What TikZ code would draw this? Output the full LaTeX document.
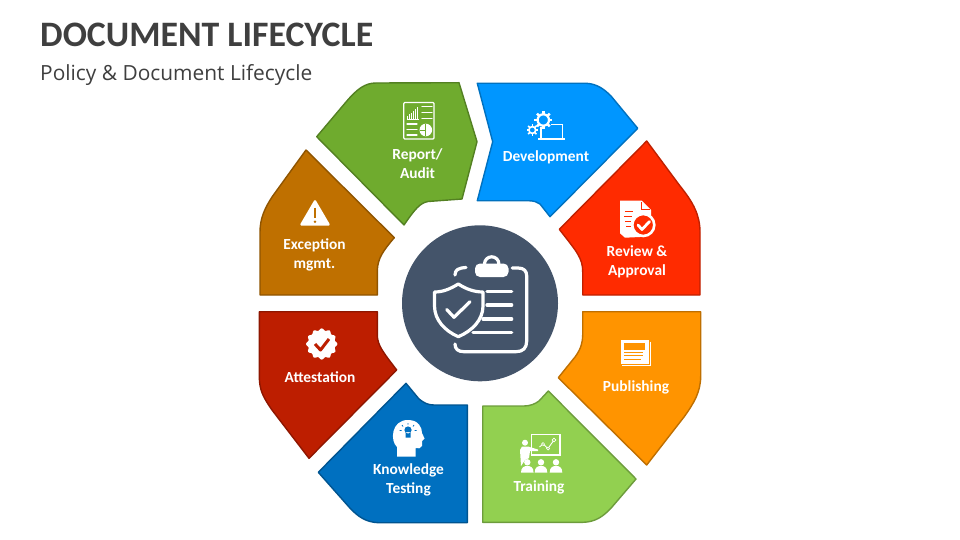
\documentclass[tikz,border=0pt]{standalone}
\usepackage{fontspec}
\setmainfont{Carlito}
\newfontfamily\subfont{Open Sans}
\usetikzlibrary{positioning}
\definecolor{reportc}{HTML}{6FAB2E}
\definecolor{excepc}{HTML}{BF7000}
\definecolor{devc}{HTML}{0096FF}
\definecolor{reviewc}{HTML}{FF2B00}
\definecolor{attestc}{HTML}{BD1E00}
\definecolor{knowc}{HTML}{0070C0}
\definecolor{trainc}{HTML}{92D050}
\definecolor{publishc}{HTML}{FF9400}
\definecolor{hubc}{HTML}{44546A}
\definecolor{titlec}{HTML}{3F3F3F}
\begin{document}
\begin{tikzpicture}[x=1pt,y=-1pt,
    petal/.style={line width=1.4pt,line join=round},
    lbl/.style={text=white,font=\fontsize{15.4}{19}\selectfont\bfseries,align=center,inner sep=0pt},
    ink/.style={draw=white,line width=#1,line cap=round,line join=round},
    ink/.default=1pt
  ]
  \useasboundingbox (0,0) rectangle (960,540);
  % title
  \node[anchor=base west,inner sep=0pt,text=titlec,font=\fontsize{35.8}{40}\selectfont\bfseries] (title) at (40,47) {DOCUMENT LIFECYCLE};
  \node[anchor=base west,inner sep=0pt,text=titlec,font=\fontsize{20.9}{24}\selectfont\subfont] (subtitle) at (40,81) {Policy \& Document Lifecycle};
  % petals
  \filldraw[petal,fill=reportc,draw=reportc!75!black] (316.7,136.7) -- (346,102) .. controls (357,89) and (365,83) .. (376,83) -- (459,82.7) -- (477,141.7) -- (462,199) -- (428,201.5) .. controls (420,203) and (415,209) .. (404,225) -- cycle;
  \filldraw[petal,fill=excepc,draw=excepc!75!black] (306,150) -- (272,197) .. controls (265,208) and (260,218) .. (260,232) -- (260,295) -- (377.3,295) -- (377.3,270) .. controls (378,258) and (383,251) .. (394.3,237.7) -- cycle;
  \filldraw[petal,fill=devc,draw=devc!75!black] (477.3,83.3) -- (586.7,83.3) .. controls (597,84) and (604,89) .. (611,96) -- (637.7,128.3) -- (550,216.7) -- (540,204) .. controls (537,202) and (534,200.7) .. (528,200.7) -- (477.3,200.7) -- (492.7,141.7) -- cycle;
  \filldraw[petal,fill=reviewc,draw=reviewc!75!black] (646.7,141) -- (680,186) .. controls (693,202) and (700,215) .. (700,232) -- (700,295) -- (582.7,295) -- (582.7,272) .. controls (582.7,258) and (577,252) .. (559.3,229.3) -- cycle;
  \filldraw[petal,fill=attestc,draw=attestc!75!black] (259.3,311.7) -- (377.3,311.7) -- (377.3,336) .. controls (378,346) and (383,352) .. (396.7,370) -- (309,458.3) -- (272,410) .. controls (263,397) and (259.3,390) .. (259.3,376) -- cycle;
  \filldraw[petal,fill=knowc,draw=knowc!75!black] (406,383.3) -- (419,399) .. controls (424,403) and (428,405) .. (434,405) -- (467.3,405) -- (467.3,522.7) -- (378,522.7) .. controls (366,522) and (358,517) .. (349,507) -- (318.3,472.3) -- cycle;
  \filldraw[petal,fill=publishc,draw=publishc!75!black] (582.7,311.7) -- (700.7,311.7) -- (700.7,376) .. controls (700.7,392) and (694,403) .. (684,417) -- (646.7,465) -- (558.3,377.7) -- (575,357) .. controls (581,349) and (582.7,342) .. (582.7,335) -- cycle;
  \filldraw[petal,fill=trainc,draw=trainc!75!black] (548.3,391) -- (539,401) .. controls (535,404) and (530,406) .. (524,406) -- (482.7,406) -- (482.7,522.3) -- (583,522.3) .. controls (595,522) and (603,517) .. (612,507) -- (636,479) -- cycle;
  % hub
  \fill[hubc] (480,303.3) circle (78);
  % clipboard and shield
  \draw[ink=3.2pt] (455,275) .. controls (455,270) and (458,268) .. (466,267.5);
  \draw[ink=3.2pt] (512.3,268) -- (518,268) .. controls (524,268) and (526.7,271) .. (526.7,276) -- (526.7,341) .. controls (526.7,348) and (523,351.7) .. (516,351.7) -- (464,351.7) .. controls (458,351.7) and (455,349) .. (455,344);
  \fill[white,rounded corners=5pt] (475,263.5) rectangle (508.5,277);
  \draw[ink=3.2pt] (484.5,264) arc (180:360:7.2);
  \draw[ink=3.2pt] (487,291.7) -- (511.7,291.7) (487,305) -- (511.7,305) (483,319) -- (511.7,319) (473,332.3) -- (511.7,332.3);
  \filldraw[hubc,draw=white,line width=3.2pt,line join=round] (458.3,284) .. controls (450,289) and (443,292) .. (434.5,292) -- (434.5,306) .. controls (434.5,320) and (445,331) .. (458.3,336.7) .. controls (472,331) and (483,320) .. (483,306) -- (483,292) .. controls (474,292) and (466,289) .. (458.3,284) -- cycle;
  \draw[ink=3.2pt] (446.7,309.5) -- (454,317.3) -- (470,301.7);
  % report icon
  \draw[ink=1.3pt,rounded corners=1pt] (403.8,102.5) rectangle (434,139);
  \foreach \u/\v in {407.5/116,409.5/114,411.5/113,413.5/111,415.5/109,417.5/107} \draw[white,line width=0.9pt] (\u,119) -- (\u,\v);
  \draw[white,line width=0.8pt] (406.5,119.3) -- (418.5,119.3);
  \draw[ink=1.1pt] (422,106.7) -- (432,106.7) (422,112.7) -- (432,112.7) (422,118.3) -- (432,118.3) (407,124) -- (417,124) (407,129.3) -- (417,129.3) (407,135) -- (417,135);
  \fill[white] (425.8,130) circle (6.3);
  \draw[reportc,line width=0.8pt] (419.5,130) -- (425.8,130) -- (425.8,123.7) (425.8,130) -- (425.8,136.3);
  % warning icon
  \fill[white,rounded corners=1.5pt] (315,199) -- (330.5,225.5) -- (299.5,225.5) -- cycle;
  \draw[excepc,line width=2.4pt] (315,207.5) -- (315,218);
  \fill[excepc] (315,221.7) circle (1.4);
  % development icon
  \foreach \a in {0,45,...,315} \draw[white,line width=2.4pt] (543.3,120) ++(\a:5.5) -- ++(\a:3.5);
  \draw[ink=2.2pt] (543.3,120) circle (5.7);
  \foreach \a in {0,45,...,315} \draw[white,line width=1.6pt] (532.3,130) ++(\a:3.2) -- ++(\a:2.6);
  \draw[ink=1.6pt] (532.3,130) circle (3.4);
  \draw[white,line width=1.4pt] (551,124.3) -- (562.7,124.3) -- (562.7,138) (541,127.5) -- (541,138);
  \draw[white,line width=2pt] (538.3,139.3) -- (565,139.3);
  % review icon
  \fill[white] (620,200.7) -- (641.7,200.7) -- (651,210) -- (651,230) -- (640,237) -- (625,237.7) -- (620,233.3) -- cycle;
  \draw[reviewc,line width=1pt] (641,202) -- (641,209.5) -- (650,209.5);
  \draw[reviewc,line width=1.4pt] (625,211.7) -- (633,211.7) (624,216.7) -- (632,216.7) (625,221.7) -- (631,221.7) (626,226.7) -- (631,226.7);
  \filldraw[reviewc,draw=white,line width=2.6pt] (643.3,225) circle (11);
  \draw[ink=2.8pt] (638,225) -- (642,229.5) -- (649.5,221.5);
  % attestation icon
  \fill[white,shift={(321.7,344)}] plot[domain=0:360,samples=73,smooth] (\x:{14.6+1.1*cos(12*\x)}) -- cycle;
  \draw[attestc,line width=3pt,line join=round] (315,344) -- (320.5,350) -- (329,339);
  % head icon
  \fill[white] (397,456.7) -- (397,447) .. controls (390,441) and (391,420) .. (408,420) .. controls (419,420) and (422,428) .. (422,433) -- (424.5,438.5) -- (422,441) -- (422,446) .. controls (421,449) and (418,448.5) .. (415.5,448) -- (415.5,456.7) -- cycle;
  \fill[knowc] (408,430) circle (3.6) (405.5,432) rectangle (410.5,437.5);
  \draw[knowc,line width=0.8pt] (408,423) -- (408,424.5) (402,425) -- (403,426.5) (414,425) -- (413,426.5) (399.5,430.5) -- (401.5,430.5) (416.5,430.5) -- (414.5,430.5);
  % publishing icon
  \draw[white,line width=1pt] (650.3,341.5) -- (650.3,365.7) -- (622,365.7);
  \fill[white] (621,340) rectangle (649,364);
  \fill[publishc] (624.3,343.3) rectangle (645,350);
  \draw[publishc,line width=1pt] (624.3,352.3) -- (643,352.3) (624.3,355.7) -- (643,355.7) (624.3,359) -- (641,359);
  % training icon
  \draw[white,line width=1.2pt] (531.7,434.8) rectangle (560,455);
  \draw[white,line width=0.9pt] (539.5,447) -- (543,444) -- (548,448.5) -- (554,440);
  \draw[white,line width=0.7pt,fill=trainc] (543,444) circle (1.5) (548,448.5) circle (1.5) (554,440) circle (1.8);
  \fill[white] (525,442.7) circle (3);
  \fill[white] (520,450) -- (522,446.5) -- (528,446.5) -- (538,449.5) -- (538,451) -- (530,451) -- (529,458) -- (525,460) -- (521,466) -- cycle;
  \foreach \u in {527.3,541,556} {
    \fill[white] (\u,462.3) circle (3.2);
    \fill[white] (\u-6.3,472.7) .. controls (\u-6.3,467) and (\u-3,466) .. (\u,466) .. controls (\u+3,466) and (\u+6.3,467) .. (\u+6.3,472.7) -- cycle;
  }
  % labels
  \node[lbl] (report) at (417.5,163.5) {Report/\\Audit};
  \node[lbl] (except) at (314.5,255) {Exception\\mgmt.};
  \node[lbl] (dev) at (546,157.5) {Development};
  \node[lbl] (review) at (637,262) {Review \&\\Approval};
  \node[lbl] (attest) at (320,377.5) {Attestation};
  \node[lbl] (publish) at (636,387) {Publishing};
  \node[lbl] (know) at (408.5,480) {Knowledge\\Testing};
  \node[lbl] (train) at (539,487) {Training};
\end{tikzpicture}
\end{document}
